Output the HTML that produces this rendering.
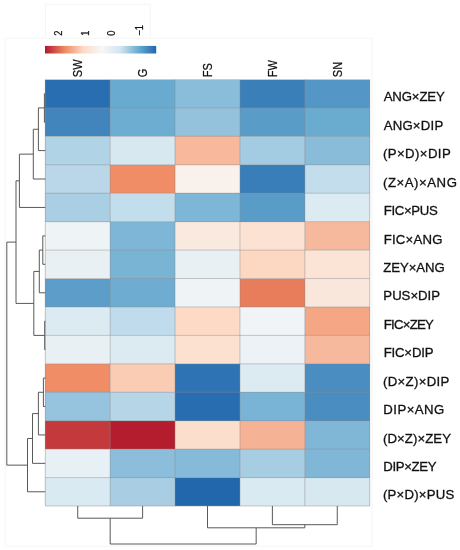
<!DOCTYPE html>
<html><head><meta charset="utf-8"><title>heatmap</title>
<style>html,body{margin:0;padding:0;background:#fff}svg{display:block}text{font-family:"Liberation Sans",sans-serif;fill:#111}</style></head><body>
<svg width="460" height="550" viewBox="0 0 460 550">
<defs><linearGradient id="cb" x1="0" x2="1" y1="0" y2="0">
<stop offset="0.0000" stop-color="#b2182b"/>
<stop offset="0.1787" stop-color="#ef8a62"/>
<stop offset="0.3453" stop-color="#fddbc7"/>
<stop offset="0.5120" stop-color="#f7f7f7"/>
<stop offset="0.6787" stop-color="#d1e5f0"/>
<stop offset="0.8453" stop-color="#67a9cf"/>
<stop offset="1.0000" stop-color="#2166ac"/>
</linearGradient></defs>
<rect width="460" height="550" fill="#fff"/>
<g fill="none" stroke="#f4f4f4" stroke-width="1"><path d="M45.4 37V4.2H150.3V37"/><path d="M5 38.2H372V546H5Z"/></g>
<rect x="45" y="45.9" width="111.2" height="7.6" fill="url(#cb)"/>
<text font-size="10.6" stroke="#111" stroke-width="0.25" transform="translate(61.70,35.7) rotate(-90) scale(0.88,1)">2</text>
<text font-size="10.6" stroke="#111" stroke-width="0.25" transform="translate(88.80,35.7) rotate(-90) scale(0.88,1)">1</text>
<text font-size="10.6" stroke="#111" stroke-width="0.25" transform="translate(115.30,35.7) rotate(-90) scale(0.88,1)">0</text>
<text font-size="10.6" stroke="#111" stroke-width="0.25" transform="translate(142.80,35.7) rotate(-90) scale(0.88,1)">−1</text>
<g shape-rendering="crispEdges">
<rect x="45.30" y="79.50" width="64.88" height="28.43" fill="#296eb0"/>
<rect x="110.18" y="79.50" width="64.88" height="28.43" fill="#69aad0"/>
<rect x="175.06" y="79.50" width="64.88" height="28.43" fill="#8abdda"/>
<rect x="239.94" y="79.50" width="64.88" height="28.43" fill="#3b7fb9"/>
<rect x="304.82" y="79.50" width="64.88" height="28.43" fill="#5497c6"/>
<rect x="45.30" y="107.93" width="64.88" height="28.43" fill="#4285bc"/>
<rect x="110.18" y="107.93" width="64.88" height="28.43" fill="#6dadd1"/>
<rect x="175.06" y="107.93" width="64.88" height="28.43" fill="#94c2dd"/>
<rect x="239.94" y="107.93" width="64.88" height="28.43" fill="#5a9cc8"/>
<rect x="304.82" y="107.93" width="64.88" height="28.43" fill="#6aabd0"/>
<rect x="45.30" y="136.37" width="64.88" height="28.43" fill="#b1d3e6"/>
<rect x="110.18" y="136.37" width="64.88" height="28.43" fill="#d8e8f1"/>
<rect x="175.06" y="136.37" width="64.88" height="28.43" fill="#f7b89c"/>
<rect x="239.94" y="136.37" width="64.88" height="28.43" fill="#a3cbe2"/>
<rect x="304.82" y="136.37" width="64.88" height="28.43" fill="#88bcd9"/>
<rect x="45.30" y="164.80" width="64.88" height="28.43" fill="#b9d7e8"/>
<rect x="110.18" y="164.80" width="64.88" height="28.43" fill="#f08d66"/>
<rect x="175.06" y="164.80" width="64.88" height="28.43" fill="#f8f1ec"/>
<rect x="239.94" y="164.80" width="64.88" height="28.43" fill="#3a7eb9"/>
<rect x="304.82" y="164.80" width="64.88" height="28.43" fill="#c3ddec"/>
<rect x="45.30" y="193.23" width="64.88" height="28.43" fill="#aacfe4"/>
<rect x="110.18" y="193.23" width="64.88" height="28.43" fill="#c2ddeb"/>
<rect x="175.06" y="193.23" width="64.88" height="28.43" fill="#7db6d6"/>
<rect x="239.94" y="193.23" width="64.88" height="28.43" fill="#599cc8"/>
<rect x="304.82" y="193.23" width="64.88" height="28.43" fill="#dceaf2"/>
<rect x="45.30" y="221.67" width="64.88" height="28.43" fill="#eef3f5"/>
<rect x="110.18" y="221.67" width="64.88" height="28.43" fill="#7db6d6"/>
<rect x="175.06" y="221.67" width="64.88" height="28.43" fill="#fae9df"/>
<rect x="239.94" y="221.67" width="64.88" height="28.43" fill="#fbe2d3"/>
<rect x="304.82" y="221.67" width="64.88" height="28.43" fill="#f7b99d"/>
<rect x="45.30" y="250.10" width="64.88" height="28.43" fill="#e8f0f4"/>
<rect x="110.18" y="250.10" width="64.88" height="28.43" fill="#7ab4d5"/>
<rect x="175.06" y="250.10" width="64.88" height="28.43" fill="#e8f0f4"/>
<rect x="239.94" y="250.10" width="64.88" height="28.43" fill="#fcd8c3"/>
<rect x="304.82" y="250.10" width="64.88" height="28.43" fill="#fbe4d6"/>
<rect x="45.30" y="278.53" width="64.88" height="28.43" fill="#5c9ec9"/>
<rect x="110.18" y="278.53" width="64.88" height="28.43" fill="#6eadd1"/>
<rect x="175.06" y="278.53" width="64.88" height="28.43" fill="#eff3f6"/>
<rect x="239.94" y="278.53" width="64.88" height="28.43" fill="#e87d5c"/>
<rect x="304.82" y="278.53" width="64.88" height="28.43" fill="#fae7dc"/>
<rect x="45.30" y="306.97" width="64.88" height="28.43" fill="#dceaf2"/>
<rect x="110.18" y="306.97" width="64.88" height="28.43" fill="#c0dbeb"/>
<rect x="175.06" y="306.97" width="64.88" height="28.43" fill="#fddac6"/>
<rect x="239.94" y="306.97" width="64.88" height="28.43" fill="#f0f4f6"/>
<rect x="304.82" y="306.97" width="64.88" height="28.43" fill="#f4a685"/>
<rect x="45.30" y="335.40" width="64.88" height="28.43" fill="#e9f0f4"/>
<rect x="110.18" y="335.40" width="64.88" height="28.43" fill="#dceaf2"/>
<rect x="175.06" y="335.40" width="64.88" height="28.43" fill="#fce0d0"/>
<rect x="239.94" y="335.40" width="64.88" height="28.43" fill="#ecf2f5"/>
<rect x="304.82" y="335.40" width="64.88" height="28.43" fill="#f7b99d"/>
<rect x="45.30" y="363.83" width="64.88" height="28.43" fill="#f08d66"/>
<rect x="110.18" y="363.83" width="64.88" height="28.43" fill="#faccb4"/>
<rect x="175.06" y="363.83" width="64.88" height="28.43" fill="#2e73b3"/>
<rect x="239.94" y="363.83" width="64.88" height="28.43" fill="#dceaf2"/>
<rect x="304.82" y="363.83" width="64.88" height="28.43" fill="#4a8ec1"/>
<rect x="45.30" y="392.27" width="64.88" height="28.43" fill="#96c3de"/>
<rect x="110.18" y="392.27" width="64.88" height="28.43" fill="#b6d6e8"/>
<rect x="175.06" y="392.27" width="64.88" height="28.43" fill="#286db0"/>
<rect x="239.94" y="392.27" width="64.88" height="28.43" fill="#79b3d5"/>
<rect x="304.82" y="392.27" width="64.88" height="28.43" fill="#4a8dc0"/>
<rect x="45.30" y="420.70" width="64.88" height="28.43" fill="#c43a3c"/>
<rect x="110.18" y="420.70" width="64.88" height="28.43" fill="#b41d2d"/>
<rect x="175.06" y="420.70" width="64.88" height="28.43" fill="#fcdecc"/>
<rect x="239.94" y="420.70" width="64.88" height="28.43" fill="#f6b294"/>
<rect x="304.82" y="420.70" width="64.88" height="28.43" fill="#80b7d7"/>
<rect x="45.30" y="449.13" width="64.88" height="28.43" fill="#e7f0f4"/>
<rect x="110.18" y="449.13" width="64.88" height="28.43" fill="#8cbedb"/>
<rect x="175.06" y="449.13" width="64.88" height="28.43" fill="#86bad9"/>
<rect x="239.94" y="449.13" width="64.88" height="28.43" fill="#a7cde3"/>
<rect x="304.82" y="449.13" width="64.88" height="28.43" fill="#80b7d7"/>
<rect x="45.30" y="477.57" width="64.88" height="28.43" fill="#daeaf2"/>
<rect x="110.18" y="477.57" width="64.88" height="28.43" fill="#a9cee3"/>
<rect x="175.06" y="477.57" width="64.88" height="28.43" fill="#2267ac"/>
<rect x="239.94" y="477.57" width="64.88" height="28.43" fill="#daeaf2"/>
<rect x="304.82" y="477.57" width="64.88" height="28.43" fill="#d7e8f1"/>
</g>
<path d="M45.30 79.50H369.70M45.30 107.93H369.70M45.30 136.37H369.70M45.30 164.80H369.70M45.30 193.23H369.70M45.30 221.67H369.70M45.30 250.10H369.70M45.30 278.53H369.70M45.30 306.97H369.70M45.30 335.40H369.70M45.30 363.83H369.70M45.30 392.27H369.70M45.30 420.70H369.70M45.30 449.13H369.70M45.30 477.57H369.70M45.30 506.00H369.70M45.30 79.50V506.00M110.18 79.50V506.00M175.06 79.50V506.00M239.94 79.50V506.00M304.82 79.50V506.00M369.70 79.50V506.00" fill="none" stroke="#8c8c8c" stroke-opacity="0.45" stroke-width="1"/>
<text font-size="12.8" stroke="#111" stroke-width="0.25" transform="translate(82.09,77.2) rotate(-90) scale(0.86,1)">SW</text>
<text font-size="12.8" stroke="#111" stroke-width="0.25" transform="translate(146.97,77.2) rotate(-90) scale(0.86,1)">G</text>
<text font-size="12.8" stroke="#111" stroke-width="0.25" transform="translate(211.85,77.2) rotate(-90) scale(0.86,1)">FS</text>
<text font-size="12.8" stroke="#111" stroke-width="0.25" transform="translate(276.73,77.2) rotate(-90) scale(0.86,1)">FW</text>
<text font-size="12.8" stroke="#111" stroke-width="0.25" transform="translate(341.61,77.2) rotate(-90) scale(0.86,1)">SN</text>
<text font-size="13.2" stroke="#111" stroke-width="0.3" x="383.63" y="101.42" letter-spacing="-0.118">ANG×ZEY</text>
<text font-size="13.2" stroke="#111" stroke-width="0.3" x="383.63" y="129.85" letter-spacing="0.224">ANG×DIP</text>
<text font-size="13.2" stroke="#111" stroke-width="0.3" x="383.03" y="158.28" letter-spacing="0.397">(P×D)×DIP</text>
<text font-size="13.2" stroke="#111" stroke-width="0.3" x="383.03" y="186.72" letter-spacing="0.538">(Z×A)×ANG</text>
<text font-size="13.2" stroke="#111" stroke-width="0.3" x="383.63" y="215.15" letter-spacing="-0.303">FIC×PUS</text>
<text font-size="13.2" stroke="#111" stroke-width="0.3" x="383.63" y="243.58" letter-spacing="0.211">FIC×ANG</text>
<text font-size="13.2" stroke="#111" stroke-width="0.3" x="383.28" y="272.02" letter-spacing="-0.076">ZEY×ANG</text>
<text font-size="13.2" stroke="#111" stroke-width="0.3" x="383.36" y="300.45" letter-spacing="-0.030">PUS×DIP</text>
<text font-size="13.2" stroke="#111" stroke-width="0.3" x="383.63" y="328.88" letter-spacing="-0.732">FIC×ZEY</text>
<text font-size="13.2" stroke="#111" stroke-width="0.3" x="383.63" y="357.32" letter-spacing="-0.171">FIC×DIP</text>
<text font-size="13.2" stroke="#111" stroke-width="0.3" x="383.03" y="385.75" letter-spacing="0.325">(D×Z)×DIP</text>
<text font-size="13.2" stroke="#111" stroke-width="0.3" x="383.36" y="414.18" letter-spacing="0.451">DIP×ANG</text>
<text font-size="13.2" stroke="#111" stroke-width="0.3" x="383.03" y="442.62" letter-spacing="0.073">(D×Z)×ZEY</text>
<text font-size="13.2" stroke="#111" stroke-width="0.3" x="383.36" y="471.05" letter-spacing="-0.373">DIP×ZEY</text>
<text font-size="13.2" stroke="#111" stroke-width="0.3" x="383.03" y="499.48" letter-spacing="0.192">(P×D)×PUS</text>
<path d="M45.30 93.72H44.40V122.15H45.30M44.40 107.93H38.40V150.58H45.30M38.40 129.26H33.30V179.02H45.30M33.30 154.14H19.40V207.45H45.30M45.30 235.88H42.80V264.32H45.30M42.80 250.10H39.30V292.75H45.30M45.30 321.18H44.70V349.62H45.30M39.30 271.43H33.80V335.40H44.70M19.40 180.79H16.00V303.41H33.80M45.30 378.05H43.40V406.48H45.30M43.40 392.27H38.40V434.92H45.30M38.40 413.59H32.50V463.35H45.30M32.50 438.47H27.50V491.78H45.30M16.00 242.10H6.80V465.13H27.50M77.74 506.00V518.20H142.62V506.00M272.38 506.00V524.70H337.26V506.00M207.50 506.00V527.80H304.82V524.70M110.18 518.20V544.00H256.16V527.80" fill="none" stroke="#505050" stroke-width="0.95" stroke-linejoin="round"/>
</svg></body></html>
